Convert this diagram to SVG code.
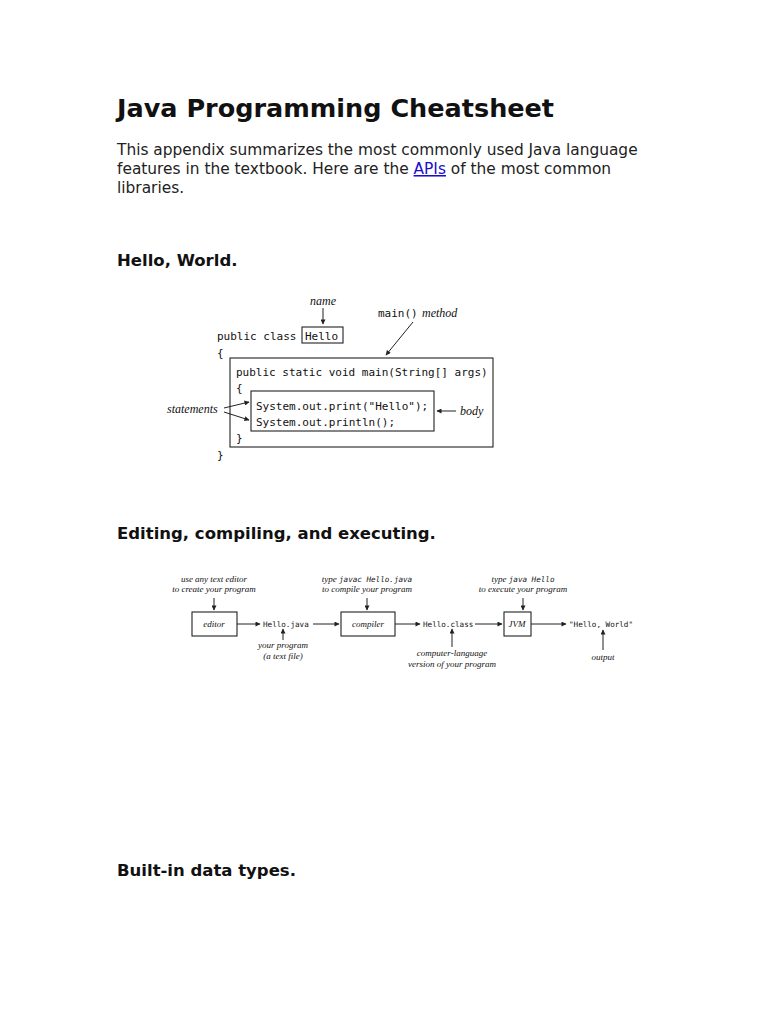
<svg xmlns="http://www.w3.org/2000/svg" width="768" height="1024" viewBox="0 0 768 1024">
<style>
.h{font-family:"DejaVu Sans",sans-serif;font-weight:bold;fill:#111}
.p{font-family:"DejaVu Sans",sans-serif;font-size:15.4px;fill:#222}
.m{font-family:"DejaVu Sans Mono","Liberation Mono",monospace;font-size:11px;fill:#111}
.ms{font-family:"DejaVu Sans Mono","Liberation Mono",monospace;font-size:7.6px;fill:#111}
.i{font-family:"Liberation Serif",serif;font-style:italic;font-size:12px;fill:#111}
.is{font-family:"Liberation Serif",serif;font-style:italic;font-size:9px;fill:#111}
.b{fill:none;stroke:#222;stroke-width:1.1}
.c{stroke:#222;stroke-width:1;fill:none;marker-end:url(#a)}
</style>
<defs><marker id="a" viewBox="0 0 10 10" refX="9" refY="5" markerWidth="7" markerHeight="5" orient="auto" markerUnits="userSpaceOnUse"><path d="M0,0L10,5L0,10z" fill="#222"/></marker></defs>
<rect width="768" height="1024" fill="#fff"/>
<text class="h" x="117" y="117" font-size="25.5">Java Programming Cheatsheet</text>
<text class="p" x="117" y="155">This appendix summarizes the most commonly used Java language</text>
<text class="p" x="117" y="174">features in the textbook. Here are the <tspan fill="#1a0dcc" text-decoration="underline">APIs</tspan> of the most common</text>
<text class="p" x="117" y="193">libraries.</text>
<text class="h" x="117" y="266" font-size="16.5">Hello, World.</text>
<text class="h" x="117" y="539" font-size="16.5">Editing, compiling, and executing.</text>
<text class="h" x="117" y="876" font-size="16.5">Built-in data types.</text>

<g id="hello">
<text class="i" x="323" y="305" text-anchor="middle">name</text>
<rect class="b" x="302" y="327" width="41" height="16"/>
<text class="m" x="217" y="340">public class</text>
<text class="m" x="305" y="340">Hello</text>
<text class="m" x="217" y="357">{</text>
<text class="m" x="217" y="459">}</text>
<text class="m" x="378" y="317">main()</text>
<text class="i" x="422" y="317">method</text>
<rect class="b" x="230" y="358" width="263" height="89"/>
<text class="m" x="236" y="376">public static void main(String[] args)</text>
<text class="m" x="236" y="392">{</text>
<text class="m" x="236" y="442">}</text>
<rect class="b" x="251" y="391" width="183" height="40"/>
<text class="m" x="256" y="410">System.out.print("Hello");</text>
<text class="m" x="256" y="426">System.out.println();</text>
<text class="i" x="167" y="413">statements</text>
<text class="i" x="460" y="415">body</text>
</g>

<g id="pipeline">
<text class="is" x="214" y="582" text-anchor="middle">use any text editor</text>
<text class="is" x="214" y="592" text-anchor="middle">to create your program</text>
<rect class="b" x="192" y="612" width="45" height="24"/>
<text class="is" x="214" y="627" text-anchor="middle">editor</text>
<text class="ms" x="263" y="627">Hello.java</text>
<text class="is" x="367" y="582" text-anchor="middle">type <tspan class="ms">javac Hello.java</tspan></text>
<text class="is" x="367" y="592" text-anchor="middle">to compile your program</text>
<rect class="b" x="341" y="612" width="54" height="24"/>
<text class="is" x="368" y="627" text-anchor="middle">compiler</text>
<text class="ms" x="423" y="627">Hello.class</text>
<text class="is" x="523" y="582" text-anchor="middle">type <tspan class="ms">java Hello</tspan></text>
<text class="is" x="523" y="592" text-anchor="middle">to execute your program</text>
<rect class="b" x="504" y="612" width="27" height="24"/>
<text class="is" x="517" y="627" text-anchor="middle">JVM</text>
<text class="ms" x="569" y="627">"Hello, World"</text>
<text class="is" x="283" y="648" text-anchor="middle">your program</text>
<text class="is" x="283" y="659" text-anchor="middle">(a text file)</text>
<text class="is" x="452" y="656" text-anchor="middle">computer-language</text>
<text class="is" x="452" y="667" text-anchor="middle">version of your program</text>
<text class="is" x="603" y="660" text-anchor="middle">output</text>
</g>

<g id="connectors">
<line class="c" x1="323" y1="308" x2="323" y2="324"/>
<line class="c" x1="413" y1="322" x2="386" y2="355"/>
<line class="c" x1="224" y1="408" x2="249" y2="402"/>
<line class="c" x1="224" y1="412" x2="249" y2="420"/>
<line class="c" x1="456" y1="411" x2="437" y2="411"/>
<line class="c" x1="214" y1="598" x2="214" y2="610"/>
<line class="c" x1="367" y1="598" x2="367" y2="610"/>
<line class="c" x1="523" y1="598" x2="523" y2="610"/>
<line class="c" x1="237" y1="624" x2="260" y2="624"/>
<line class="c" x1="313" y1="624" x2="339" y2="624"/>
<line class="c" x1="395" y1="624" x2="420" y2="624"/>
<line class="c" x1="475" y1="624" x2="502" y2="624"/>
<line class="c" x1="531" y1="624" x2="566" y2="624"/>
<line class="c" x1="283" y1="640" x2="283" y2="629"/>
<line class="c" x1="452" y1="647" x2="452" y2="629"/>
<line class="c" x1="603" y1="650" x2="603" y2="630"/>
</g>
</svg>
